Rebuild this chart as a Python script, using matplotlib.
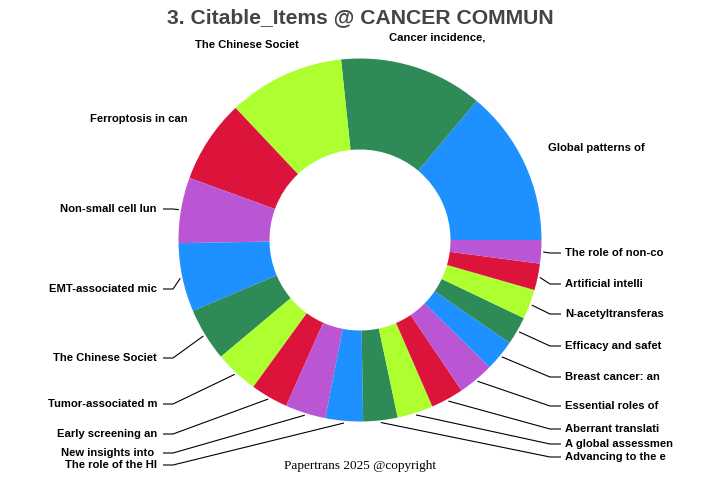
import matplotlib
matplotlib.use("Agg")
import matplotlib.pyplot as plt
import numpy as np

title = "3. Citable_Items @ CANCER COMMUN"
footer = "Papertrans 2025 @copyright"

labels = [
    "Global patterns of", "Cancer incidence,", "The Chinese Societ", "Ferroptosis in can",
    "Non-small cell lun", "EMT-associated mic", "The Chinese Societ", "Tumor-associated m",
    "Early screening an", "New insights into ", "The role of the HI", "Advancing to the e",
    "A global assessmen", "Aberrant translati", "Essential roles of", "Breast cancer: an ",
    "Efficacy and safet", "N-acetyltransferas", "Artificial intelli", "The role of non-co",
]
values = [50, 46, 37.3, 26.7, 21, 22, 17, 14, 12, 13, 12, 11, 11.5, 10.5, 11.5, 10, 9, 9.5, 8.5, 7.5]
palette = ["#1E90FF", "#2E8B57", "#ADFF2F", "#DC143C", "#BA55D3"]
colors = [palette[i % 5] for i in range(len(values))]

# layout (pixel coords, y from top): free labels for the large slices
free_pos = {0: (548, 148, "left"), 1: (437, 37, "center"), 2: (247, 45, "center"), 3: (188, 119, "right")}
# label rows for leader-line labels
row_y = {4: 209, 5: 289, 6: 358, 7: 404, 8: 434, 9: 453, 10: 465,
         11: 457, 12: 444, 13: 429, 14: 406, 15: 377, 16: 346, 17: 314, 18: 284, 19: 253}

W, H = 720, 480
cx, cy, R = 360, 240, 181.5

fig = plt.figure(figsize=(7.2, 4.8), dpi=100)
ax = fig.add_axes([0, 0, 1, 1])
wedges, _ = ax.pie(values, colors=colors, startangle=0, counterclock=True,
                   radius=R, center=(cx, H - cy),
                   wedgeprops=dict(width=91, linewidth=0))
ax.set_xlim(0, W)
ax.set_ylim(0, H)
ax.set_aspect("equal")
ax.axis("off")

lab_font = dict(family=["Liberation Sans", "DejaVu Sans"], fontweight="bold", fontsize=8.1, color="black")

for i, w in enumerate(wedges):
    if i in free_pos:
        x, y, ha = free_pos[i]
        ax.text(x, H - y, labels[i], ha=ha, va="center", **lab_font)
        continue
    th = np.deg2rad((w.theta1 + w.theta2) / 2)
    sx = cx + R * 1.012 * np.cos(th)
    sy = (H - cy) + R * 1.012 * np.sin(th)
    y = H - row_y[i]
    if np.cos(th) < 0:
        ex, hx, tx, ha = 173, 163, 157, "right"
    else:
        ex, hx, tx, ha = 550, 561, 565, "left"
    ax.plot([sx, ex, hx], [sy, y, y], color="black", lw=0.8, solid_capstyle="butt")
    ax.text(tx, y, labels[i], ha=ha, va="center", **lab_font)

fig.text(0.5, 1 - 18 / H, title, ha="center", va="center", fontsize=15.2,
         fontweight="bold", color="#444444", family=["Liberation Sans", "DejaVu Sans"])
fig.text(0.5, 1 - 466 / H, footer, ha="center", va="center", fontsize=9.5,
         color="black", family=["Liberation Serif", "DejaVu Serif"])

fig.savefig("out.png", dpi=100)
